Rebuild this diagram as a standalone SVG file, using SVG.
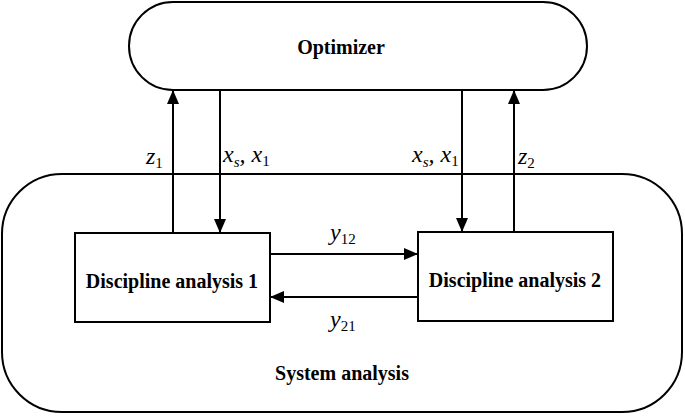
<svg xmlns="http://www.w3.org/2000/svg" width="685" height="417" viewBox="0 0 685 417">
<style>
.s{fill:#fff;stroke:#000;stroke-width:2}
.b{font-family:"Liberation Serif",serif;font-weight:bold;font-size:20px;text-anchor:middle}
.m{font-family:"Liberation Serif",serif;font-style:italic;font-size:24px}
.sub{font-style:normal;font-size:15px}
.si{font-size:15px}
.c{stroke:#000;stroke-width:2;fill:none;marker-end:url(#a)}
</style>
<defs><marker id="a" markerWidth="14" markerHeight="12" refX="14" refY="6" orient="auto" markerUnits="userSpaceOnUse"><path d="M0,0L14,6L0,12Z" fill="#000"/></marker></defs>
<g id="system"><rect class="s" x="2" y="174" width="680" height="238" rx="60"/><text class="b" x="342" y="380">System analysis</text></g>
<g id="optimizer"><rect class="s" x="129" y="2" width="458" height="88" rx="44"/><text class="b" x="341" y="54">Optimizer</text></g>
<g id="d1"><rect class="s" x="75" y="233" width="195" height="89"/><text class="b" x="172" y="288">Discipline analysis 1</text></g>
<g id="d2"><rect class="s" x="418" y="232" width="195" height="89"/><text class="b" x="515" y="287">Discipline analysis 2</text></g>
<g id="connectors">
<line class="c" x1="173" y1="233" x2="173" y2="90"/>
<line class="c" x1="220" y1="90" x2="220" y2="233"/>
<line class="c" x1="462" y1="90" x2="462" y2="232"/>
<line class="c" x1="514" y1="232" x2="514" y2="90"/>
<line class="c" x1="270" y1="254" x2="418" y2="254"/>
<line class="c" x1="418" y1="297" x2="270" y2="297"/>
</g>
<g id="labels">
<text class="m" x="146" y="164">z<tspan class="sub" dy="4">1</tspan></text>
<text class="m" x="223" y="162">x<tspan class="si" dy="5">s</tspan><tspan dy="-5">, x</tspan><tspan class="sub" dy="4">1</tspan></text>
<text class="m" x="412" y="162">x<tspan class="si" dy="5">s</tspan><tspan dy="-5">, x</tspan><tspan class="sub" dy="4">1</tspan></text>
<text class="m" x="518" y="164">z<tspan class="sub" dy="4">2</tspan></text>
<text class="m" x="330" y="240">y<tspan class="sub" dy="4">12</tspan></text>
<text class="m" x="330" y="327">y<tspan class="sub" dy="4">21</tspan></text>
</g>
</svg>
